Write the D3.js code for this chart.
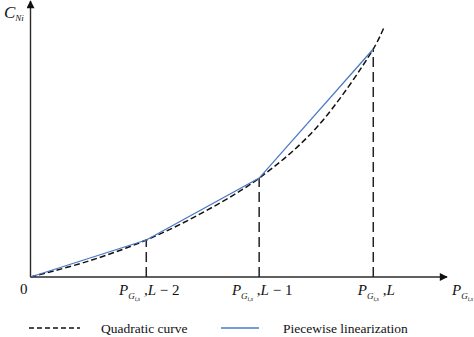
<!DOCTYPE html>
<html>
<head>
<meta charset="utf-8">
<script src="https://cdn.jsdelivr.net/npm/d3@7"></script>
<style>
  html, body { margin: 0; padding: 0; background: #fff; }
  svg { display: block; font-family: "Liberation Serif", "Times New Roman", serif; }
</style>
</head>
<body>
<svg id="chart" width="474" height="337"></svg>
<script>
// Quadratic cost curve, sampled along the output axis (arbitrary units 0–100)
const curveX = [0, 13.9, 27.8, 41.2, 54.9, 68.6, 82.3, 84.9];
const curveY = [0, 5.8, 13.5, 23.4, 36.1, 54.4, 83.2, 91.2];

// Breakpoints of the piecewise linearization
const breakX = [0, 27.8, 54.9, 82.3];
const breakY = [0, 13.5, 36.1, 83.2];

// Labels for the breakpoints L-2, L-1, L
const breakLabels = [
  { idx: 1, suffix: " \u2212 2" },
  { idx: 2, suffix: " \u2212 1" },
  { idx: 3, suffix: "" }
];

const legendItems = ["Quadratic curve", "Piecewise linearization"];

const svg = d3.select("#chart");
const x = d3.scaleLinear().domain([0, 100]).range([30.5, 447]);
const y = d3.scaleLinear().domain([0, 100]).range([277, 3]);

const axisColor = "#2b2b2b";

// Arrowhead marker
const defs = svg.append("defs");
defs.append("marker")
  .attr("id", "arrow")
  .attr("viewBox", "0 0 10 10")
  .attr("refX", 9).attr("refY", 5)
  .attr("markerWidth", 10).attr("markerHeight", 8)
  .attr("markerUnits", "userSpaceOnUse")
  .attr("orient", "auto")
  .append("path")
  .attr("d", "M0,0 L10,5 L0,10 Z")
  .attr("fill", "#111");

// Axes
svg.append("line")
  .attr("x1", x(0)).attr("y1", y(0))
  .attr("x2", x(100)).attr("y2", y(0))
  .attr("stroke", axisColor).attr("stroke-width", 1.4)
  .attr("marker-end", "url(#arrow)");
svg.append("line")
  .attr("x1", x(0)).attr("y1", y(0))
  .attr("x2", x(0)).attr("y2", y(100) - 2)
  .attr("stroke", axisColor).attr("stroke-width", 1.4)
  .attr("marker-end", "url(#arrow)");

// Vertical guides at the breakpoints
breakLabels.forEach(b => {
  svg.append("line")
    .attr("x1", x(breakX[b.idx])).attr("y1", y(0))
    .attr("x2", x(breakX[b.idx])).attr("y2", y(breakY[b.idx]))
    .attr("stroke", "#222").attr("stroke-width", 1.5)
    .attr("stroke-dasharray", "10,5");
});

// Quadratic curve (dashed)
const curvePts = curveX.map((v, i) => [v, curveY[i]]);
svg.append("path")
  .datum(curvePts)
  .attr("d", d3.line().x(d => x(d[0])).y(d => y(d[1])).curve(d3.curveCatmullRom.alpha(0.5)))
  .attr("fill", "none")
  .attr("stroke", "#111").attr("stroke-width", 1.5)
  .attr("stroke-dasharray", "6,3");

// Piecewise linearization (solid blue)
const breakPts = breakX.map((v, i) => [v, breakY[i]]);
svg.append("path")
  .datum(breakPts)
  .attr("d", d3.line().x(d => x(d[0])).y(d => y(d[1])))
  .attr("fill", "none")
  .attr("stroke", "#4a78c4").attr("stroke-width", 1.3);

// Helper: writes P with G and i,s subscripts
function pLabel(sel, tail) {
  const t = sel.append("text").attr("fill", "#111").attr("font-size", 15);
  t.append("tspan").attr("font-style", "italic").text("P");
  t.append("tspan").attr("font-style", "italic").attr("font-size", 9).attr("dy", 4).text("G");
  t.append("tspan").attr("font-style", "italic").attr("font-size", 6).attr("dy", 2).text("i,s");
  if (tail !== null) {
    t.append("tspan").attr("dy", -6).text(" ,");
    t.append("tspan").attr("font-style", "italic").text("L");
    t.append("tspan").text(tail);
  }
  return t;
}

breakLabels.forEach(b => {
  const t = pLabel(svg, b.suffix);
  const w = t.node().getComputedTextLength();
  t.attr("x", x(breakX[b.idx]) + 3 - w / 2).attr("y", 295);
});

// Axis titles
pLabel(svg, null).attr("x", 452).attr("y", 295);

const cl = svg.append("text").attr("x", 4).attr("y", 18).attr("fill", "#111").attr("font-size", 17);
cl.append("tspan").attr("font-style", "italic").text("C");
cl.append("tspan").attr("font-style", "italic").attr("font-size", 9).attr("dy", 3).text("Ni");

svg.append("text").attr("x", 20).attr("y", 294).attr("font-size", 15).attr("fill", "#111").text("0");

// Legend
const lg = svg.append("g");
lg.append("line").attr("x1", 29).attr("x2", 80).attr("y1", 328).attr("y2", 328)
  .attr("stroke", "#111").attr("stroke-width", 1.5).attr("stroke-dasharray", "5,3");
lg.append("text").attr("x", 101).attr("y", 333).attr("font-size", 13.5).attr("fill", "#111").text(legendItems[0]);
lg.append("line").attr("x1", 221).attr("x2", 259).attr("y1", 328).attr("y2", 328)
  .attr("stroke", "#4a78c4").attr("stroke-width", 1.3);
lg.append("text").attr("x", 283).attr("y", 333).attr("font-size", 13.5).attr("fill", "#111").text(legendItems[1]);
</script>
</body>
</html>
